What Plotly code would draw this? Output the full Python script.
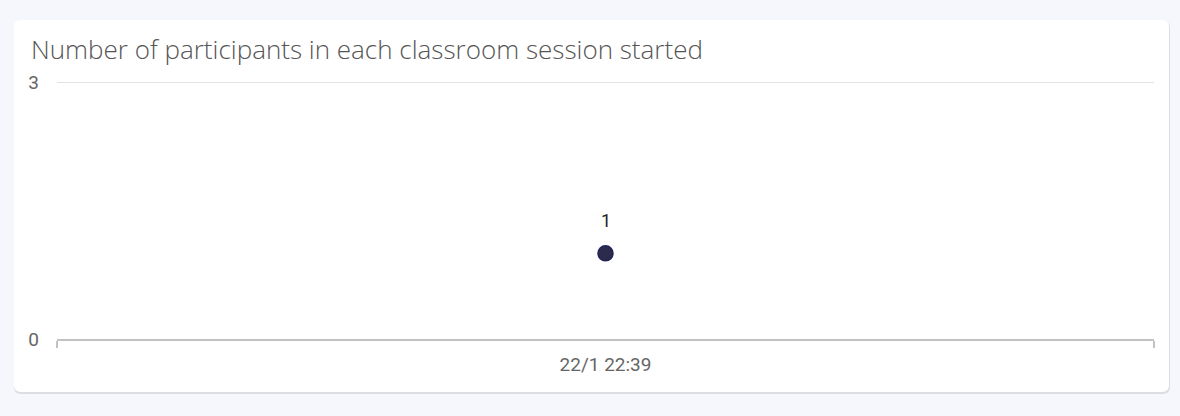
import plotly.graph_objects as go

# -------------------------------
# Datos
# -------------------------------
sesiones = ["22/1 22:39"]
participantes = [1]
y_ticks = [0, 3]

W, H = 1180, 416
L, R, T, B = 57, 26, 81, 77
pw, ph = W - L - R, H - T - B


def px2paper(x, y):
    # pixeles de la pagina -> coordenadas paper
    return (x - L) / pw, (H - B - y) / ph


def card_path(x0, y0, x1, y1, r):
    def p(x, y):
        fx, fy = px2paper(x, y)
        return f"{fx:.5f},{fy:.5f}"
    d = f"M {p(x0 + r, y0)} L {p(x1 - r, y0)} Q {p(x1, y0)} {p(x1, y0 + r)} "
    d += f"L {p(x1, y1 - r)} Q {p(x1, y1)} {p(x1 - r, y1)} "
    d += f"L {p(x0 + r, y1)} Q {p(x0, y1)} {p(x0, y1 - r)} "
    d += f"L {p(x0, y0 + r)} Q {p(x0, y0)} {p(x0 + r, y0)} Z"
    return d


fig = go.Figure()
fig.add_trace(go.Scatter(
    x=sesiones, y=participantes, mode="markers",
    marker=dict(size=15, color="#2b2b4b", line=dict(color="#23235a", width=1.5)),
    hoverinfo="skip", showlegend=False,
))
# etiquetas de valor encima de cada punto
for s, v in zip(sesiones, participantes):
    fig.add_annotation(x=s, y=v, text=str(v), showarrow=False, yshift=33,
                       yanchor="middle", font=dict(family="Roboto", size=18, color="#222222"))

# tarjeta blanca con sombra
fig.add_shape(type="path", path=card_path(14, 21, 1170, 394, 7), xref="paper", yref="paper",
              fillcolor="rgba(0,0,0,0.10)", line=dict(width=0), layer="below")
fig.add_shape(type="path", path=card_path(14, 20, 1169, 392, 7), xref="paper", yref="paper",
              fillcolor="#ffffff", line=dict(width=0), layer="below")

fig.add_annotation(text="Number of participants in each classroom session started",
                   xref="paper", yref="paper", x=px2paper(29, 0)[0], y=px2paper(0, 49)[1],
                   xanchor="left", yanchor="middle", showarrow=False,
                   font=dict(family="Open Sans", size=26, color="#555555", weight=300))

fig.update_layout(
    width=W, height=H,
    margin=dict(l=L, r=R, t=T, b=B),
    paper_bgcolor="#f6f7fc", plot_bgcolor="rgba(0,0,0,0)",
    font=dict(family="Roboto", size=19, color="#666666"),
)
fig.update_xaxes(type="category", range=[-0.5, 0.5], showgrid=False, zeroline=False,
                 showline=True, linecolor="#c2c2c2", linewidth=1.5,
                 ticks="outside", tickson="boundaries", ticklen=7, tickcolor="#c2c2c2",
                 tickwidth=1.5, tickfont=dict(family="Roboto", size=19, color="#666666"),
                 ticklabelstandoff=7)
# el tope un poco por encima de 3 para que se vea la linea de grilla
fig.update_yaxes(range=[0, 3.012], tickvals=y_ticks, showgrid=True, gridcolor="#e3e3e3",
                 gridwidth=1.2, zeroline=False, showline=False, ticks="",
                 tickfont=dict(family="Roboto", size=19, color="#666666"),
                 ticklabelstandoff=17)

fig.write_html("out.html", config={"displayModeBar": False},
               post_script="document.body.style.margin='0';"
               "document.body.style.background='#f6f7fc';")
